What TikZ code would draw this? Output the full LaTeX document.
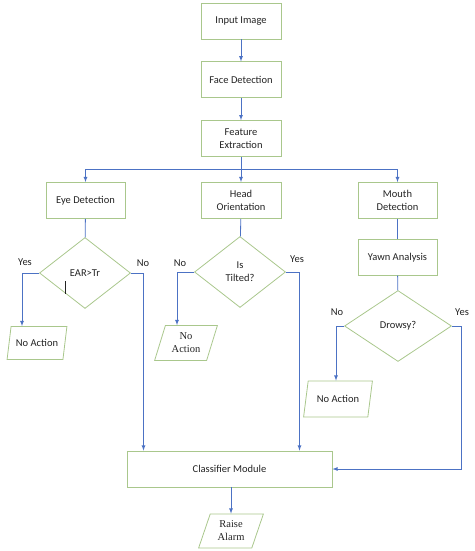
\documentclass[tikz,border=0pt]{standalone}
\usepackage{fontspec}
\setmainfont{Carlito}
\newfontfamily\timesfont{Liberation Serif}
\usepackage{tikz}
\usetikzlibrary{shapes.geometric, arrows, positioning}
\definecolor{boxgreen}{RGB}{169,199,140}
\definecolor{flowblue}{RGB}{76,114,196}
\definecolor{inktext}{RGB}{35,35,35}

\begin{document}
\begin{tikzpicture}[
    x=1pt, y=-1pt,
    font=\fontsize{10.5}{13}\selectfont, text=inktext,
    block/.style={rectangle, draw=boxgreen, line width=0.8pt, minimum width=80pt, minimum height=36pt, align=center, inner sep=2pt},
    decision/.style={diamond, draw=boxgreen, line width=0.8pt, minimum width=91pt, minimum height=71pt, align=center, inner sep=0pt},
    outcome/.style={trapezium, trapezium left angle=70, trapezium right angle=110, trapezium stretches=true, draw=boxgreen, line width=0.8pt, minimum width=62pt, minimum height=34pt, align=center, inner sep=1pt},
    serif/.style={font=\timesfont\fontsize{10.5}{13}\selectfont},
    line/.style={draw=flowblue, -latex, line width=0.8pt},
    plain/.style={draw=flowblue, line width=0.8pt},
    tag/.style={inner sep=0pt}
]
    \useasboundingbox (0,0) rectangle (474,551);

    \node [block] (input) at (241,21) {Input Image};
    \node [block, below=22pt of input] (face) {Face Detection};
    \node [block, below=22pt of face] (feature) {Feature\\Extraction};

    \node [block, minimum width=79pt] (eye) at (85.5,200.5) {Eye Detection};
    \node [block] (head) at (241,200.5) {Head\\Orientation};
    \node [block, minimum width=79pt] (mouth) at (397.5,200.5) {Mouth\\Detection};
    \node [block, minimum width=79pt, below=20pt of mouth] (yawn) {Yawn Analysis};

    \node [decision] (ear) at (85,273) {EAR>Tr};
    \node [decision] (tilted) at (240,272) {Is\\Tilted?};
    \node [decision, minimum width=107pt] (drowsy) at (398,326) {Drowsy?};

    \node [outcome, minimum width=60pt, minimum height=33pt] (noeye) at (37,343) {No Action};
    \node [outcome, serif, minimum width=63pt, minimum height=35pt] (nohead) at (186,343) {No\\Action};
    \node [outcome, minimum width=69pt, minimum height=36pt] (nomouth) at (338,399) {No Action};

    \node [block, minimum width=205pt] (classifier) at (229.5,469) {Classifier Module};
    \node [outcome, serif, minimum width=65pt] (alarm) at (231,531) {Raise\\Alarm};

    \node [tag] (eyeyes) at (25,262) {Yes};
    \node [tag] (eyeno) at (143,263) {No};
    \node [tag] (tiltno) at (180,263) {No};
    \node [tag] (tiltyes) at (297,259) {Yes};
    \node [tag] (drowsyno) at (337,312) {No};
    \node [tag] (drowsyyes) at (462,312) {Yes};

    \draw [inktext, line width=0.6pt] (65,281) -- (65,294);

    \coordinate (split) at ([yshift=-12.5pt]feature.south);

    \path [line] (input) -- (face);
    \path [line] (face) -- (feature);
    \path [plain] (feature.south) -- (split);
    \path [line] (split) -| (eye.north);
    \path [line] (split) -- (head.north);
    \path [line] (split) -| (mouth.north);

    \path [plain] (eye) -- (ear);
    \path [plain] (head) -- (tilted);
    \path [plain] (mouth) -- (yawn);
    \path [plain] (yawn) -- (drowsy);

    \path [line] (ear.west) -| ([xshift=-15pt]noeye.north);
    \path [line] (ear.east) -| ([xshift=-86pt]classifier.north);
    \path [line] (tilted.west) -| ([xshift=-9pt]nohead.north);
    \path [line] (tilted.east) -| ([xshift=70pt]classifier.north);
    \path [line] (drowsy.west) -| ([xshift=-2pt]nomouth.north);
    \path [line] (drowsy.east) -- ++(9,0) |- (classifier.east);
    \path [line] (classifier.south -| alarm.north) -- (alarm.north);
\end{tikzpicture}
\end{document}
